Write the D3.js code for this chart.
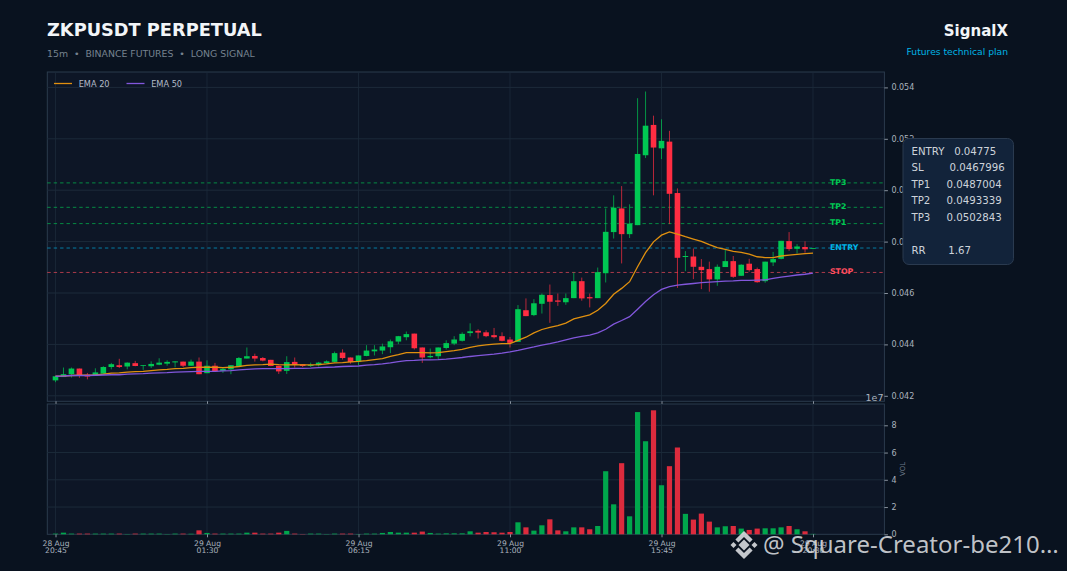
<!DOCTYPE html>
<html>
<head>
<meta charset="utf-8">
<script src="https://cdn.jsdelivr.net/npm/d3@7"></script>
<style>
  html, body { margin: 0; padding: 0; background: #09121f; }
  svg { display: block; font-family: "DejaVu Sans", sans-serif; }
  .axis path.domain { display: none; }
  .axis text { fill: #aab2be; font-size: 8px; font-family: "DejaVu Sans", sans-serif; }
  .axis line { stroke: #aab2be; stroke-width: 0.8; }
</style>
</head>
<body>
<svg width="1067" height="571"></svg>
<script>
var opens = [
  0.04260,0.04273,0.04284,0.04306,0.04282,0.04278,0.04286,0.04312,0.04319,0.04314,
  0.04327,0.04316,0.04315,0.04321,0.04325,0.04330,0.04333,0.04317,0.04333,0.04288,
  0.04317,0.04297,0.04303,0.04316,0.04345,0.04355,0.04347,0.04340,0.04317,0.04297,
  0.04332,0.04323,0.04316,0.04319,0.04327,0.04332,0.04368,0.04349,0.04332,0.04355,
  0.04373,0.04376,0.04389,0.04411,0.04428,0.04442,0.04388,0.04350,0.04354,0.04386,
  0.04403,0.04414,0.04444,0.04453,0.04447,0.04436,0.04432,0.04419,0.04410,0.04533,
  0.04514,0.04558,0.04592,0.04571,0.04564,0.04580,0.04646,0.04584,0.04580,0.04677,
  0.04837,0.04929,0.04829,0.04864,0.05136,0.05254,0.05163,0.05189,0.04989,0.04740,
  0.04742,0.04702,0.04693,0.04653,0.04701,0.04724,0.04667,0.04714,0.04693,0.04646,
  0.04719,0.04733,0.04802,0.04772,0.04779,0.04772];
var highs = [
  0.04276,0.04310,0.04310,0.04306,0.04289,0.04307,0.04315,0.04328,0.04344,0.04330,
  0.04336,0.04319,0.04334,0.04346,0.04338,0.04334,0.04333,0.04341,0.04349,0.04338,
  0.04328,0.04310,0.04319,0.04351,0.04388,0.04364,0.04351,0.04340,0.04317,0.04354,
  0.04349,0.04323,0.04329,0.04332,0.04338,0.04372,0.04381,0.04349,0.04357,0.04397,
  0.04397,0.04403,0.04419,0.04433,0.04450,0.04442,0.04388,0.04384,0.04388,0.04416,
  0.04432,0.04447,0.04482,0.04459,0.04455,0.04464,0.04447,0.04429,0.04553,0.04579,
  0.04576,0.04598,0.04633,0.04598,0.04598,0.04680,0.04660,0.04598,0.04699,0.04929,
  0.04980,0.05016,0.04945,0.05358,0.05384,0.05290,0.05276,0.05231,0.05007,0.04763,
  0.04773,0.04732,0.04722,0.04711,0.04770,0.04744,0.04712,0.04733,0.04699,0.04722,
  0.04760,0.04803,0.04837,0.04790,0.04801,0.04775];
var lows = [
  0.04253,0.04273,0.04271,0.04270,0.04264,0.04278,0.04286,0.04303,0.04308,0.04303,
  0.04315,0.04301,0.04308,0.04319,0.04317,0.04311,0.04312,0.04317,0.04284,0.04288,
  0.04293,0.04289,0.04284,0.04315,0.04345,0.04333,0.04334,0.04315,0.04285,0.04285,
  0.04310,0.04312,0.04312,0.04314,0.04325,0.04330,0.04341,0.04325,0.04319,0.04354,
  0.04357,0.04362,0.04366,0.04401,0.04416,0.04380,0.04328,0.04346,0.04343,0.04380,
  0.04397,0.04411,0.04431,0.04423,0.04428,0.04423,0.04412,0.04388,0.04410,0.04510,
  0.04510,0.04520,0.04484,0.04550,0.04554,0.04580,0.04570,0.04544,0.04580,0.04641,
  0.04812,0.04715,0.04814,0.04864,0.05125,0.04980,0.05121,0.04868,0.04620,0.04685,
  0.04654,0.04615,0.04605,0.04628,0.04701,0.04659,0.04666,0.04683,0.04640,0.04640,
  0.04705,0.04731,0.04764,0.04754,0.04757,0.04772];
var closes = [
  0.04276,0.04284,0.04306,0.04280,0.04275,0.04291,0.04312,0.04323,0.04312,0.04329,
  0.04316,0.04319,0.04324,0.04329,0.04332,0.04334,0.04317,0.04333,0.04284,0.04317,
  0.04295,0.04305,0.04319,0.04347,0.04354,0.04345,0.04337,0.04316,0.04295,0.04331,
  0.04321,0.04316,0.04320,0.04329,0.04334,0.04366,0.04347,0.04331,0.04357,0.04376,
  0.04380,0.04392,0.04412,0.04432,0.04440,0.04385,0.04349,0.04355,0.04388,0.04405,
  0.04419,0.04441,0.04451,0.04446,0.04432,0.04428,0.04414,0.04406,0.04537,0.04510,
  0.04560,0.04593,0.04566,0.04566,0.04580,0.04646,0.04579,0.04579,0.04681,0.04838,
  0.04932,0.04829,0.04870,0.05141,0.05251,0.05166,0.05192,0.04986,0.04737,0.04744,
  0.04702,0.04689,0.04653,0.04702,0.04724,0.04663,0.04710,0.04689,0.04642,0.04722,
  0.04732,0.04803,0.04771,0.04781,0.04770,0.04775];
var ema20 = [
  0.04276,0.04277,0.04279,0.04280,0.04280,0.04281,0.04284,0.04288,0.04289,0.04292,
  0.04294,0.04295,0.04298,0.04301,0.04303,0.04306,0.04307,0.04310,0.04311,0.04311,
  0.04311,0.04310,0.04311,0.04314,0.04318,0.04320,0.04321,0.04323,0.04321,0.04320,
  0.04321,0.04320,0.04320,0.04321,0.04324,0.04328,0.04329,0.04332,0.04334,0.04337,
  0.04341,0.04345,0.04353,0.04360,0.04368,0.04368,0.04368,0.04367,0.04368,0.04372,
  0.04376,0.04381,0.04388,0.04394,0.04398,0.04401,0.04403,0.04403,0.04416,0.04428,
  0.04445,0.04458,0.04466,0.04473,0.04483,0.04499,0.04507,0.04515,0.04533,0.04559,
  0.04595,0.04618,0.04644,0.04702,0.04757,0.04799,0.04825,0.04838,0.04829,0.04819,
  0.04810,0.04801,0.04788,0.04777,0.04770,0.04762,0.04758,0.04751,0.04741,0.04738,
  0.04738,0.04744,0.04747,0.04750,0.04753,0.04755];
var ema50 = [
  0.04276,0.04277,0.04279,0.04279,0.04279,0.04280,0.04281,0.04282,0.04282,0.04284,
  0.04285,0.04286,0.04288,0.04289,0.04290,0.04292,0.04293,0.04294,0.04295,0.04295,
  0.04295,0.04297,0.04298,0.04301,0.04303,0.04305,0.04306,0.04306,0.04306,0.04306,
  0.04307,0.04307,0.04308,0.04310,0.04311,0.04312,0.04314,0.04315,0.04316,0.04319,
  0.04321,0.04324,0.04328,0.04333,0.04337,0.04338,0.04340,0.04340,0.04341,0.04343,
  0.04346,0.04349,0.04353,0.04356,0.04359,0.04362,0.04366,0.04371,0.04377,0.04384,
  0.04390,0.04397,0.04403,0.04410,0.04418,0.04425,0.04431,0.04436,0.04445,0.04459,
  0.04479,0.04493,0.04508,0.04537,0.04567,0.04593,0.04614,0.04625,0.04631,0.04634,
  0.04637,0.04640,0.04642,0.04644,0.04646,0.04647,0.04649,0.04649,0.04650,0.04651,
  0.04657,0.04662,0.04666,0.04670,0.04673,0.04677];
// volume in units of 1e7
var volumes = [
  0.05,0.12,0.05,0.05,0.05,0.05,0.05,0.05,0.05,0.02,
  0.05,0.05,0.05,0.05,0.02,0.05,0.05,0.04,0.29,0.10,
  0.05,0.05,0.05,0.05,0.12,0.12,0.05,0.05,0.12,0.25,
  0.05,0.02,0.05,0.05,0.02,0.05,0.05,0.05,0.02,0.05,
  0.05,0.10,0.17,0.12,0.12,0.12,0.20,0.10,0.05,0.07,
  0.07,0.07,0.22,0.12,0.17,0.15,0.12,0.17,0.88,0.51,
  0.27,0.66,1.10,0.29,0.22,0.51,0.51,0.37,0.61,4.63,
  2.20,5.22,1.32,8.97,6.83,9.10,3.60,5.00,6.37,1.50,
  1.08,1.52,0.93,0.51,0.59,0.61,0.42,0.32,0.42,0.44,
  0.44,0.51,0.61,0.37,0.22,0.03];

var xTickIndex = [0, 19, 38, 57, 76, 95];
var xTickDays = ["28 Aug", "29 Aug", "29 Aug", "29 Aug", "29 Aug", "29 Aug"];
var xTickTimes = ["20:45", "01:30", "06:15", "11:00", "15:45", "20:30"];
var priceTicks = [0.042, 0.044, 0.046, 0.048, 0.050, 0.052, 0.054];
var volTicks = [0, 2, 4, 6, 8];
var levelNames = ["TP3", "TP2", "TP1", "ENTRY", "STOP"];
var levelValues = [0.0502843, 0.0493339, 0.0487004, 0.04775, 0.0467996];
var levelColors = ["#00c853", "#00c853", "#00c853", "#00b4e6", "#ff4d5e"];
var planLines = ["ENTRY   0.04775", "SL        0.0467996", "TP1     0.0487004", "TP2     0.0493339", "TP3     0.0502843", "", "RR       1.67"];

var up = "#00c853", down = "#ff2d42";
var volUp = "#00a64c", volDown = "#dc2b3d";
var grid = "#1c2a3a", border = "#2b3b4d";
var emaColors = ["#e0900f", "#8257dc"];

var svg = d3.select("svg");
var idx = d3.range(opens.length);

var main = {left: 47.3, right: 884.4, top: 72, bottom: 401.3};
var sub = {left: 47.3, right: 884.4, top: 404, bottom: 534.3};

var x = d3.scaleLinear().domain([0, 95]).range([55.5, 813]);
var y = d3.scaleLinear().domain([0.042, 0.054]).range([395.8, 87.4]);
var yVol = d3.scaleLinear().domain([0, 8]).range([sub.bottom, 425.3]);

svg.append("rect").attr("width", 1067).attr("height", 571).attr("fill", "#09121f");

[main, sub].forEach(function (p) {
  svg.append("rect")
    .attr("x", p.left).attr("y", p.top)
    .attr("width", p.right - p.left).attr("height", p.bottom - p.top)
    .attr("fill", "#0d1626").attr("stroke", border).attr("stroke-width", 1);
  svg.append("g").selectAll("line").data(xTickIndex).join("line")
    .attr("x1", function (d) { return x(d); }).attr("x2", function (d) { return x(d); })
    .attr("y1", p.top).attr("y2", p.bottom)
    .attr("stroke", grid).attr("stroke-width", 0.8);
});

// horizontal grid
svg.append("g").selectAll("line").data(priceTicks).join("line")
  .attr("x1", main.left).attr("x2", main.right)
  .attr("y1", function (d) { return y(d); }).attr("y2", function (d) { return y(d); })
  .attr("stroke", grid).attr("stroke-width", 1);
svg.append("g").selectAll("line").data(volTicks.slice(1)).join("line")
  .attr("x1", sub.left).attr("x2", sub.right)
  .attr("y1", function (d) { return yVol(d); }).attr("y2", function (d) { return yVol(d); })
  .attr("stroke", grid).attr("stroke-width", 1);

// level lines
svg.append("g").selectAll("line").data(levelValues).join("line")
  .attr("x1", main.left).attr("x2", main.right)
  .attr("y1", function (d) { return y(d); }).attr("y2", function (d) { return y(d); })
  .attr("stroke", function (d, i) { return levelColors[i]; })
  .attr("stroke-opacity", 0.65)
  .attr("stroke-width", 1)
  .attr("stroke-dasharray", "3.4,3");

// volume bars
svg.append("g").selectAll("rect").data(idx).join("rect")
  .attr("x", function (i) { return x(i) - 2.6; })
  .attr("width", 5.2)
  .attr("y", function (i) { return yVol(volumes[i]); })
  .attr("height", function (i) { return sub.bottom - yVol(volumes[i]); })
  .attr("fill", function (i) { return closes[i] >= opens[i] ? volUp : volDown; });

// wicks
svg.append("g").selectAll("line").data(idx).join("line")
  .attr("x1", function (i) { return x(i); }).attr("x2", function (i) { return x(i); })
  .attr("y1", function (i) { return y(highs[i]); })
  .attr("y2", function (i) { return y(lows[i]); })
  .attr("stroke", function (i) { return closes[i] >= opens[i] ? up : down; })
  .attr("stroke-opacity", 0.7)
  .attr("stroke-width", 1);

// bodies
svg.append("g").selectAll("rect").data(idx).join("rect")
  .attr("x", function (i) { return x(i) - 2.8; })
  .attr("width", 5.6)
  .attr("y", function (i) { return y(Math.max(opens[i], closes[i])); })
  .attr("height", function (i) { return Math.max(0.8, Math.abs(y(opens[i]) - y(closes[i]))); })
  .attr("fill", function (i) { return closes[i] >= opens[i] ? up : down; });

// ema lines
var emaLine = d3.line().x(function (d, i) { return x(i); }).y(function (d) { return y(d); });
svg.append("path").datum(ema20).attr("d", emaLine)
  .attr("fill", "none").attr("stroke", emaColors[0]).attr("stroke-width", 1.3);
svg.append("path").datum(ema50).attr("d", emaLine)
  .attr("fill", "none").attr("stroke", emaColors[1]).attr("stroke-width", 1.3);

// level labels
svg.append("g").selectAll("text").data(levelNames).join("text")
  .attr("x", 830)
  .attr("y", function (d, i) { return y(levelValues[i]) + 1.8; })
  .attr("fill", function (d, i) { return levelColors[i]; })
  .attr("font-size", 7.8).attr("font-weight", "bold")
  .text(function (d) { return d; });

// axes
svg.append("g").attr("class", "axis")
  .attr("transform", "translate(" + main.right + ",0)")
  .call(d3.axisRight(y).tickValues(priceTicks).tickFormat(d3.format(".3f")).tickSize(3.5).tickPadding(3.5));

svg.append("g").attr("class", "axis")
  .attr("transform", "translate(" + sub.right + ",0)")
  .call(d3.axisRight(yVol).tickValues(volTicks).tickFormat(d3.format("d")).tickSize(3.5).tickPadding(3.5));

svg.append("g").attr("class", "axis")
  .attr("transform", "translate(0," + main.bottom + ")")
  .call(d3.axisBottom(x).tickValues(xTickIndex).tickFormat("").tickSize(2.5));

var xAxis = svg.append("g").attr("class", "axis")
  .attr("transform", "translate(0," + sub.bottom + ")")
  .call(d3.axisBottom(x).tickValues(xTickIndex).tickFormat("").tickSize(3));
xAxis.selectAll(".tick text").each(function (d, i) {
  var t = d3.select(this).attr("y", 11.5).attr("dy", 0).style("font-size", "7.6px");
  t.append("tspan").attr("x", 0).text(xTickDays[i]);
  t.append("tspan").attr("x", 0).attr("dy", 7.7).text(xTickTimes[i]);
});

svg.append("text").attr("x", 883.5).attr("y", 401).attr("text-anchor", "end")
  .attr("fill", "#aab2be").attr("font-size", 9.5).text("1e7");
svg.append("text").attr("transform", "translate(905,469) rotate(-90)").attr("text-anchor", "middle")
  .attr("fill", "#6f7b8a").attr("font-size", 7).text("VOL");

// legend
var legendNames = ["EMA 20", "EMA 50"], legendX = [54, 126.5];
legendNames.forEach(function (n, i) {
  svg.append("line").attr("x1", legendX[i]).attr("x2", legendX[i] + 18).attr("y1", 83.5).attr("y2", 83.5)
    .attr("stroke", emaColors[i]).attr("stroke-width", 1.3);
  svg.append("text").attr("x", legendX[i] + 24.7).attr("y", 86.5)
    .attr("fill", "#b4bcc8").attr("font-size", 8.2).text(n);
});

// header
svg.append("text").attr("x", 47).attr("y", 36).attr("fill", "#f2f5f8")
  .attr("font-size", 17.75).attr("font-weight", "bold").text("ZKPUSDT PERPETUAL");
svg.append("text").attr("x", 47).attr("y", 57).attr("fill", "#76828f")
  .attr("font-size", 9.35).style("white-space", "pre")
  .text("15m  \u2022  BINANCE FUTURES  \u2022  LONG SIGNAL");
svg.append("text").attr("x", 1008).attr("y", 36).attr("text-anchor", "end").attr("fill", "#f2f5f8")
  .attr("font-size", 15).attr("font-weight", "bold").text("SignalX");
svg.append("text").attr("x", 1008).attr("y", 55).attr("text-anchor", "end").attr("fill", "#00b4e6")
  .attr("font-size", 9.2).text("Futures technical plan");

// plan box
svg.append("rect").attr("x", 903).attr("y", 138.5).attr("width", 110.5).attr("height", 126).attr("rx", 6)
  .attr("fill", "#12233a").attr("stroke", "#2a3a4f").attr("stroke-width", 1);
svg.append("g").selectAll("text").data(planLines).join("text")
  .attr("x", 911.5)
  .attr("y", function (d, i) { return 154.6 + i * 16.6; })
  .attr("fill", "#cdd3da").attr("font-size", 10.2)
  .style("white-space", "pre")
  .text(function (d) { return d; });

// watermark
var mark = svg.append("g").attr("transform", "translate(744,545)").attr("fill", "#d9dcdf").attr("fill-opacity", 0.9);
mark.append("path").attr("d", "M0,-5.5L5.5,0L0,5.5L-5.5,0Z");
mark.append("path").attr("d", "M-13.5,0L-10.5,-3L-7.5,0L-10.5,3Z");
mark.append("path").attr("d", "M13.5,0L10.5,-3L7.5,0L10.5,3Z");
mark.append("path").attr("d", "M0,-14L8.6,-5.4L5.6,-2.5L0,-8L-5.6,-2.5L-8.6,-5.4Z");
mark.append("path").attr("d", "M0,14L8.6,5.4L5.6,2.5L0,8L-5.6,2.5L-8.6,5.4Z");
svg.append("text").attr("x", 763).attr("y", 553).attr("fill", "#d9dcdf").attr("fill-opacity", 0.88)
  .attr("font-family", "'Noto Sans', sans-serif").attr("font-size", 24).text("@ Square-Creator-be210\u2026");
</script>
</body>
</html>
